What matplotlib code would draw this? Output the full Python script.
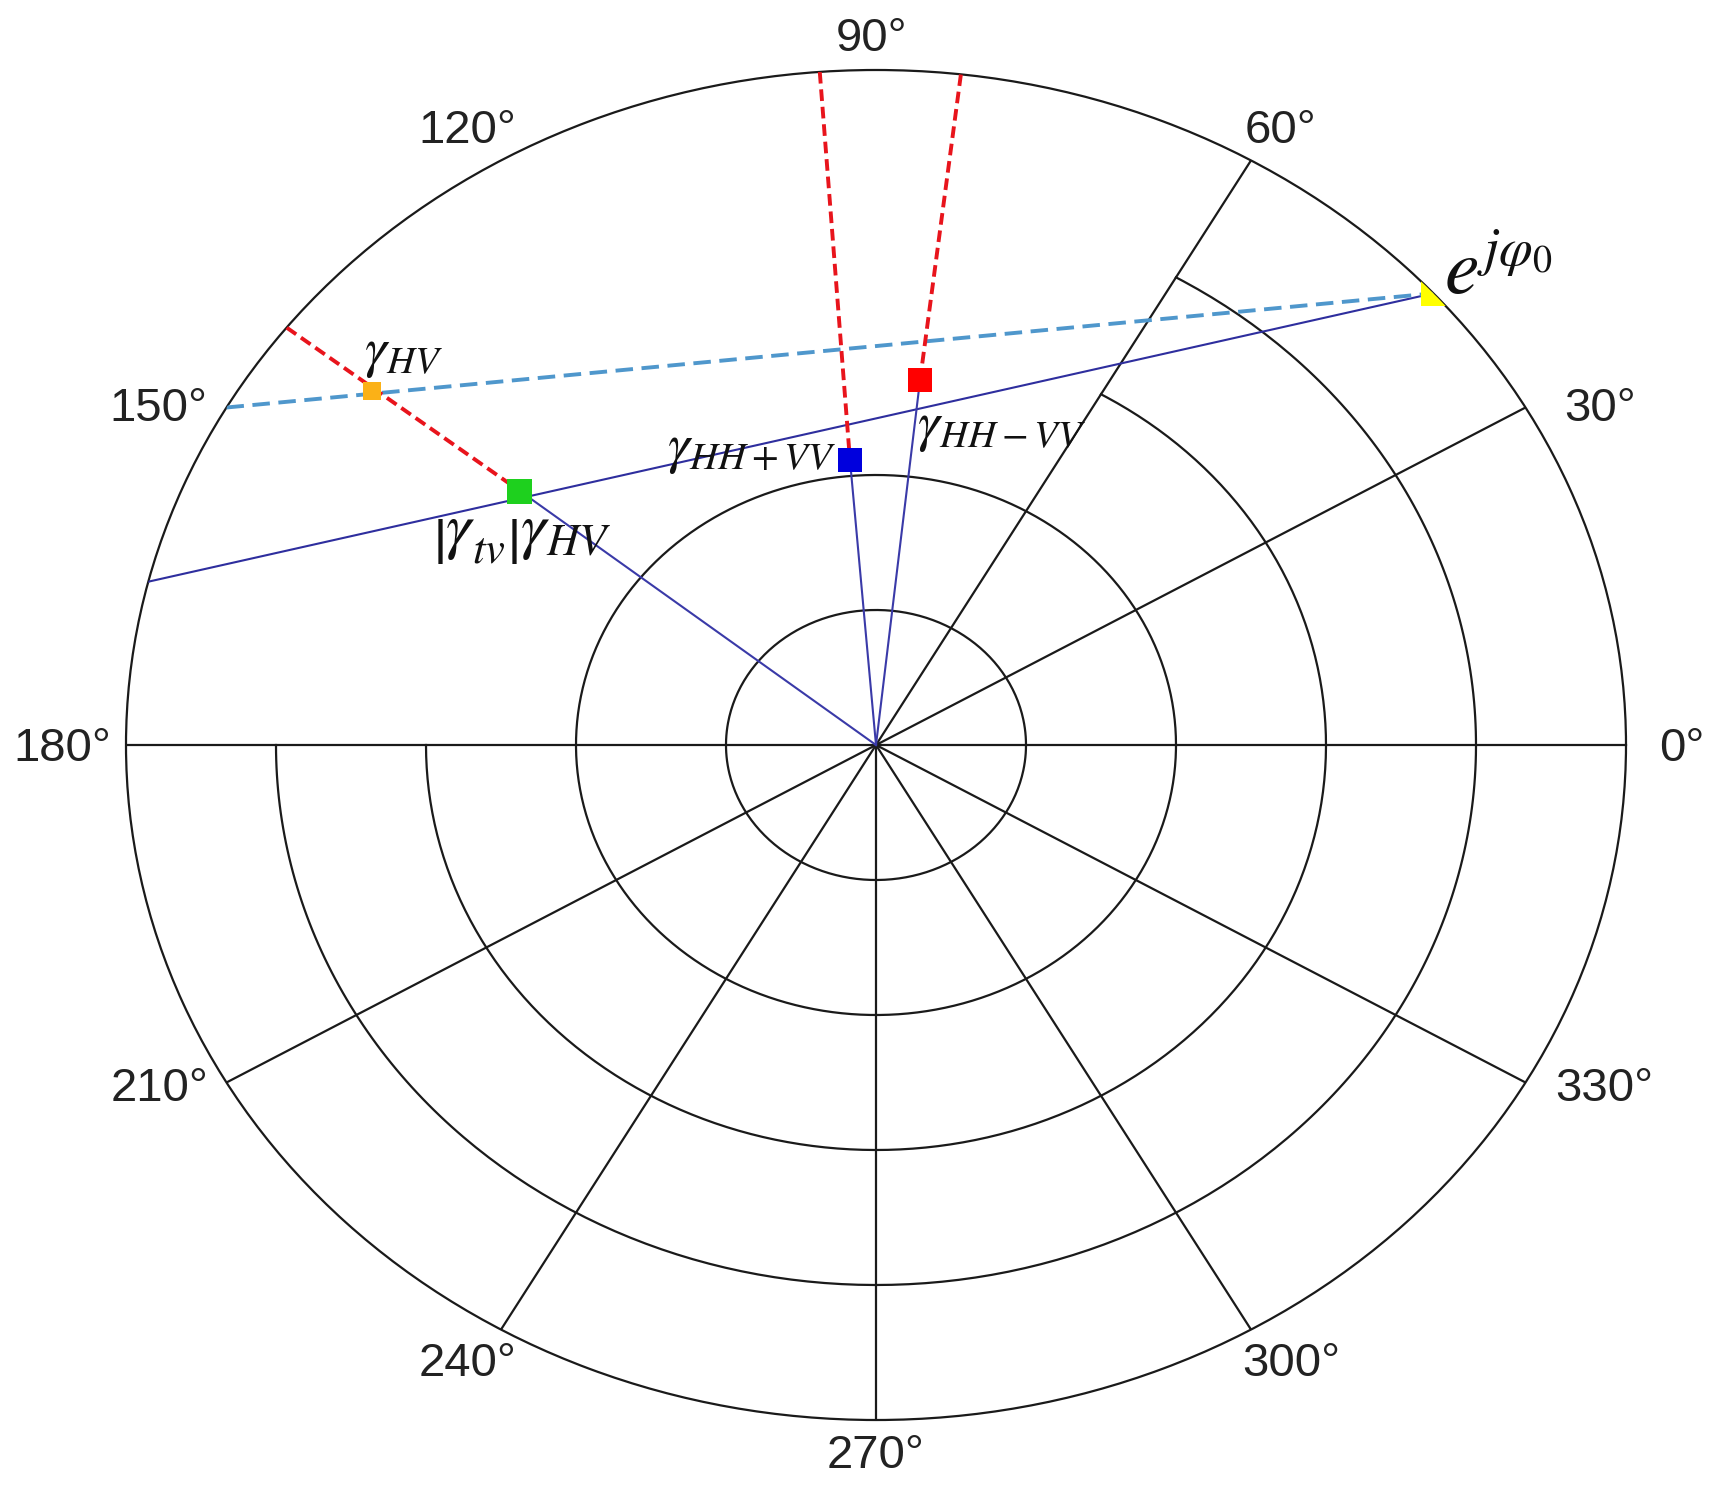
import numpy as np
import matplotlib.pyplot as plt

plt.rcParams['mathtext.fontset'] = 'stix'
plt.rcParams['font.family'] = ['Liberation Sans', 'DejaVu Sans']

# grid layout (degrees / radius)
ring_full = [0.2, 0.4]
ring_part = [0.6, 0.8]
ring_part_span = (180, 420)          # partial rings run 180 -> 360 -> 60
spoke_deg = [0, 30, 60, 180, 210, 240, 270, 300, 330]
tick_deg = [0, 30, 60, 90, 120, 150, 180, 210, 240, 270, 300, 330]
tick_lab = [f'{a}°' for a in tick_deg]

# points (theta deg, r)
pt_theta = [42, 142, 141.6, 94.7, 83.8]
pt_r = [1.0, 0.852, 0.607, 0.424, 0.544]
pt_color = ['#ffff00', '#fbb117', '#1ed01e', '#0000dd', '#ff0000']
pt_size = [18, 13, 18, 17, 17]

# segments: (theta0, r0, theta1, r1)
blue_chord = (166, 1.0, 42, 1.0)
cyan_chord = (150, 1.0, 42, 1.0)
red_dash = [(141.8, 1.0, 141.6, 0.607), (94.3, 1.0, 94.7, 0.424), (83.5, 1.0, 83.8, 0.544)]
blue_rays = [(0, 0.0, 141.6, 0.607), (0, 0.0, 94.7, 0.424), (0, 0.0, 83.8, 0.544)]

# angle label offsets from the rim, in points
tick_off = [(40, -3), (54, -1), (21, 21), (-3, 22), (-24, 21), (-49, -1),
            (-46, -3), (-48, -5), (-24, -25), (0, -26), (29, -25), (57, -5)]


def straight(seg, n=200):
    # straight segment in cartesian, returned as (theta, r) for the polar axes
    t0, r0, t1, r1 = seg
    x0, y0 = r0 * np.cos(np.deg2rad(t0)), r0 * np.sin(np.deg2rad(t0))
    x1, y1 = r1 * np.cos(np.deg2rad(t1)), r1 * np.sin(np.deg2rad(t1))
    x = np.linspace(x0, x1, n)
    y = np.linspace(y0, y1, n)
    return np.arctan2(y, x), np.hypot(x, y)


fig = plt.figure(figsize=(17.27, 14.92), dpi=100)
ax = fig.add_axes([126 / 1727, 72 / 1492, 1500 / 1727, 1350 / 1492], projection='polar')
ax.set_aspect('auto')
ax.set_ylim(0, 1)
ax.set_xticks([])
ax.set_yticks([])
ax.grid(False)
ax.spines['polar'].set_color('#1a1a1a')
ax.spines['polar'].set_linewidth(1.6)

gk = dict(color='#1a1a1a', lw=1.6, zorder=1)
th = np.linspace(0, 2 * np.pi, 400)
for rr in ring_full:
    ax.plot(th, np.full_like(th, rr), **gk)
thp = np.deg2rad(np.linspace(ring_part_span[0], ring_part_span[1], 300))
for rr in ring_part:
    ax.plot(thp, np.full_like(thp, rr), **gk)
for a in spoke_deg:
    ax.plot([np.deg2rad(a)] * 2, [0, 1], **gk)

for a, lab, off in zip(tick_deg, tick_lab, tick_off):
    ax.annotate(lab, (np.deg2rad(a), 1.0), xytext=off, textcoords='offset points',
                ha='center', va='center', fontsize=34, color='#222222', annotation_clip=False)

# lines
t, r = straight(blue_chord)
ax.plot(t, r, color='#2e2e9e', lw=1.5, zorder=3)
for seg in blue_rays:
    t, r = straight(seg)
    ax.plot(t, r, color='#3a3aa8', lw=1.5, zorder=3)
t, r = straight(cyan_chord)
ax.plot(t, r, color='#4f97cc', lw=2.8, dashes=(4.5, 2.2), zorder=3)
for seg in red_dash:
    t, r = straight(seg)
    ax.plot(t, r, color='#e8141c', lw=2.8, dashes=(3.0, 1.5), zorder=4)

for tt, rr, c, s in zip(pt_theta, pt_r, pt_color, pt_size):
    ax.plot(np.deg2rad(tt), rr, 's', color=c, markersize=s, markeredgewidth=0, zorder=5)

# labels
lk = dict(textcoords='offset points', fontsize=40, color='#111111', zorder=6)
ax.annotate(r'$e^{j\varphi_0}$', (np.deg2rad(pt_theta[0]), pt_r[0]), xytext=(8, -12),
            ha='left', va='bottom', **{**lk, 'fontsize': 56})
ax.annotate(r'$\gamma_{HV}$', (np.deg2rad(pt_theta[1]), pt_r[1]), xytext=(-6, 8),
            ha='left', va='bottom', **lk)
ax.annotate(r'$\left|\gamma_{tv}^{\,}\right|\gamma_{HV}$', (np.deg2rad(pt_theta[2]), pt_r[2]),
            xytext=(-62, -12), ha='left', va='top', **{**lk, 'fontsize': 46})
ax.annotate(r'$\gamma_{HH+VV}$', (np.deg2rad(pt_theta[3]), pt_r[3]), xytext=(-10, -12),
            ha='right', va='bottom', **lk)
ax.annotate(r'$\gamma_{HH-VV}$', (np.deg2rad(pt_theta[4]), pt_r[4]), xytext=(-2, -16),
            ha='left', va='top', **lk)

fig.savefig('out.png', dpi=100)
